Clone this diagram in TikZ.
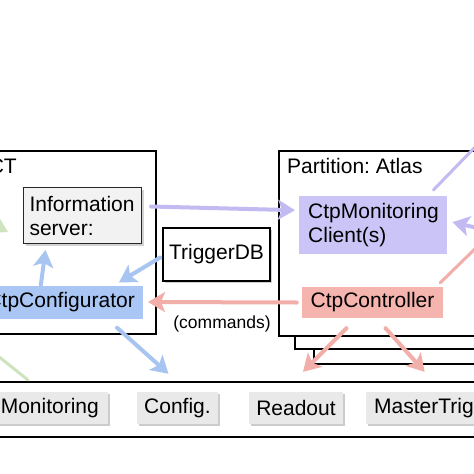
\documentclass[tikz,border=0pt]{standalone}
\usepackage{fontspec}
\setmainfont{Liberation Sans}
\usetikzlibrary{arrows.meta,shadows,calc}
\frenchspacing
\definecolor{confblue}{HTML}{A9C6F4}
\definecolor{monpurple}{HTML}{CBC5F7}
\definecolor{ctrlpink}{HTML}{F6B4AF}
\definecolor{arrblue}{HTML}{A8C4F0}
\definecolor{arrpurple}{HTML}{C2BBF2}
\definecolor{arrpink}{HTML}{F2AEA9}
\definecolor{arrgreen}{HTML}{CFE3BF}
\tikzset{
  frame/.style={draw=black, line width=1.6pt, fill=white, inner sep=0pt},
  infobox/.style={draw=black!85, line width=1pt, fill=gray!10, align=left,
    drop shadow={shadow xshift=2pt, shadow yshift=-2pt, opacity=0.35}},
  dbbox/.style={draw=black, line width=1.6pt, fill=white,
    drop shadow={shadow xshift=2pt, shadow yshift=-2pt, opacity=0.35}},
  colbox/.style={inner sep=0pt},
  button/.style={fill=gray!17, inner sep=0pt, minimum height=32pt,
    drop shadow={shadow xshift=2pt, shadow yshift=-2pt, opacity=0.4}},
  fat/.style={line width=4pt, line cap=round, -{Stealth[length=17pt,width=20pt,inset=4pt]}},
  thin/.style={line width=3pt, line cap=round},
}
\begin{document}
\begin{tikzpicture}[x=1pt,y=-1pt, font=\fontsize{21}{24}\selectfont]
\useasboundingbox (0,0) rectangle (474,474);
\clip (0,0) rectangle (474,474);
\fill[white] (0,0) rectangle (474,474);

% CT frame
\node[frame, anchor=north west, minimum width=165pt, minimum height=183pt] (ct) at (-10,150) {};
\node[anchor=base east, inner sep=0pt] (ctlabel) at (17,173) {CT};

% Partition frames (stacked)
\node[frame, anchor=north west, minimum width=200pt, minimum height=183pt] (p3) at (313,180) {};
\node[frame, anchor=north west, minimum width=200pt, minimum height=183pt] (p2) at (294,165) {};
\node[frame, anchor=north west, minimum width=210pt, minimum height=185pt] (part) at (278,150) {};
\node[anchor=base west, inner sep=0pt] (partlabel) at (287,173) {Partition: Atlas};

% Inner nodes
\node[infobox, anchor=north west, text width=106pt, inner xsep=6pt, inner ysep=0pt,
  minimum height=56pt] (info) at (23,187) {Information\\server:};
\node[dbbox, minimum width=107pt, minimum height=53pt, inner sep=0pt] (trig) at (216.5,254.5) {TriggerDB};
\node[colbox, fill=confblue, anchor=east, text width=152pt, inner xsep=8pt, align=right,
  minimum height=33pt] (conf) at (143,302) {CtpConfigurator};
\node[colbox, fill=monpurple, anchor=north west, text width=130pt, inner xsep=9pt, align=left,
  minimum height=58pt] (mon) at (299,196) {CtpMonitoring\\Client(s)};
\node[colbox, fill=ctrlpink, minimum width=141pt, minimum height=31pt] (ctrl) at (372.5,302.5) {CtpController};
\node[inner sep=0pt, font=\fontsize{17.5}{20}\selectfont] (cmd) at (222,324) {(commands)};

% Bottom bar
\node[draw=black, line width=1.6pt, anchor=north west, minimum width=500pt, minimum height=55pt, inner sep=0pt] (bar) at (-13,381) {};
\node[button, anchor=east, minimum width=116pt] (monb) at (108,408) {Monitoring};
\node[button, minimum width=81pt] (config) at (177.5,408) {Config.};
\node[button, minimum width=94pt] (readout) at (296,408) {Readout};
\node[button, anchor=west, inner xsep=8pt] (master) at (366,408) {MasterTrigger};

% Free ends
\coordinate (g1) at (-30,212);
\coordinate (g2) at (8,232);
\coordinate (g3) at (-12,348);
\coordinate (g4) at (28,380);
\coordinate (r1) at (482,140);
\coordinate (r2) at (482,229);
\coordinate (r3) at (482,242);

% Connectors
\draw[fat, arrpurple] ($(info.east)+(9,-9)$) -- ($(mon.west)+(-4,-15)$);
\draw[fat, arrblue] ($(conf.north)+(-18,0)$) -- ($(info.south)+(-37,6)$);
\draw[fat, arrblue] ($(trig.west)+(-2,3)$) -- ($(conf.north east)+(-24,-3)$);
\draw[fat, arrpink] ($(ctrl.west)+(-5,0)$) -- ($(conf.east)+(5,0)$);
\draw[fat, arrblue] ($(conf.south east)+(-26,9)$) -- ($(config.north)+(-9,-18)$);
\draw[fat, arrpink] ($(ctrl.south)+(-26,10)$) -- ($(readout.north)+(7,-20)$);
\draw[fat, arrpink] ($(ctrl.south)+(13,10)$) -- ($(master.north)+(-14.5,-20)$);
\draw[fat, arrgreen] (g1) -- (g2);
\draw[thin, arrgreen] (g3) -- (g4);
\draw[thin, arrpurple] ($(mon.north east)+(-14,-6)$) -- (r1);
\draw[fat, arrpurple] (r2) -- ($(mon.east)+(5,-3)$);
\draw[thin, arrpink] ($(ctrl.north east)+(-3,-4)$) -- (r3);
\end{tikzpicture}
\end{document}
